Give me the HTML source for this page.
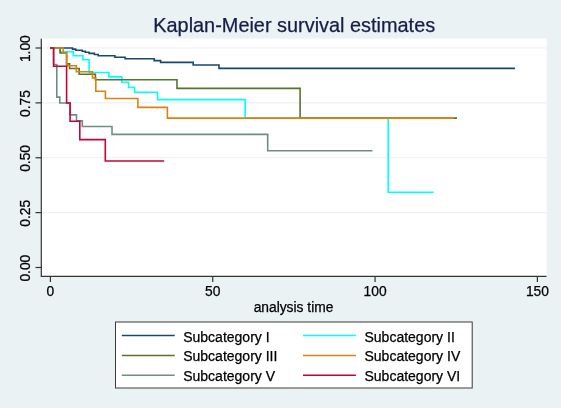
<!DOCTYPE html>
<html><head><meta charset="utf-8"><style>
html,body{margin:0;padding:0;background:#eaf2f3;width:561px;height:408px;overflow:hidden}
svg{display:block}
text{font-family:"Liberation Sans",sans-serif}
svg{will-change:transform}
text{stroke:currentColor;stroke-width:0.25px}
</style></head><body>
<svg width="561" height="408" viewBox="0 0 561 408">
<rect x="0" y="0" width="561" height="408" fill="#eaf2f3"/>
<rect x="41" y="38.6" width="505.5" height="238" fill="#ffffff"/>
<g stroke="#eaf2f3" stroke-width="1.2">
<line x1="41.5" x2="546.5" y1="212.62" y2="212.62"/>
<line x1="41.5" x2="546.5" y1="157.75" y2="157.75"/>
<line x1="41.5" x2="546.5" y1="102.88" y2="102.88"/>
<line x1="41.5" x2="546.5" y1="48.00" y2="48.00"/>
</g>
<g fill="none" stroke-width="1.6" stroke-linejoin="miter" stroke-linecap="butt">
<polyline points="50,48 72.5,48 72.5,49.1 75.7,49.1 75.7,50.2 82.1,50.2 82.1,51.3 85.3,51.3 85.3,52.3 89.1,52.3 89.1,53.4 94.4,53.4 94.4,54.5 98.2,54.5 98.2,55.8 114.9,55.8 114.9,57.3 125.1,57.3 125.1,58.7 154.2,58.7 154.2,60.6 160.6,60.6 160.6,62.4 193.2,62.4 193.2,65 219,65 219,68.4 515,68.4" stroke="#1a476f"/>
<polyline points="50,48 60.1,48 60.1,51.7 73.2,51.7 73.2,55.8 82.9,55.8 82.9,59.8 89.1,59.8 89.1,72.5 108.9,72.5 108.9,76.9 121.8,76.9 121.8,82.2 128.5,82.2 128.5,87.5 134.6,87.5 134.6,92.2 157.6,92.2 157.6,99.6 245.2,99.6 245.2,118.1 388.2,118.1 388.2,192.3 433.8,192.3" stroke="#00ffff"/>
<polyline points="50,48 60.1,48 60.1,53 66.6,53 66.6,63.9 69.6,63.9 69.6,68.5 79.2,68.5 79.2,74.2 95.4,74.2 95.4,79.8 177,79.8 177,88.4 300.1,88.4 300.1,118.1 457,118.1" stroke="#55752f"/>
<polyline points="50,48 63.3,48 63.3,53.3 66.6,53.3 66.6,65.7 76.4,65.7 76.4,71.7 92.5,71.7 92.5,78 95.8,78 95.8,91.2 105.4,91.2 105.4,98.5 137.9,98.5 137.9,107.4 167.4,107.4 167.4,118.1 453.8,118.1" stroke="#de8010"/>
<polyline points="50,48 53.6,48 53.6,64.5 56.8,64.5 56.8,97.1 59.8,97.1 59.8,103 70.1,103 70.1,114.9 76.5,114.9 76.5,120.9 82.3,120.9 82.3,126.5 112,126.5 112,134.4 267.7,134.4 267.7,150.8 372.4,150.8" stroke="#6e8e84"/>
<polyline points="50,48 53.6,48 53.6,66.3 66.6,66.3 66.6,103 70.1,103 70.1,121.2 79.8,121.2 79.8,139.6 105.3,139.6 105.3,161 164.2,161" stroke="#c10534"/>
</g>
<g stroke="#333" stroke-width="1.2" fill="none">
<polyline points="41.3,38.8 41.3,276.4 546.5,276.4"/>
<line x1="35.5" x2="41.5" y1="267.50" y2="267.50"/>
<line x1="35.5" x2="41.5" y1="212.62" y2="212.62"/>
<line x1="35.5" x2="41.5" y1="157.75" y2="157.75"/>
<line x1="35.5" x2="41.5" y1="102.88" y2="102.88"/>
<line x1="35.5" x2="41.5" y1="48.00" y2="48.00"/>
<line x1="50.40" x2="50.40" y1="276.5" y2="282"/>
<line x1="212.73" x2="212.73" y1="276.5" y2="282"/>
<line x1="375.07" x2="375.07" y1="276.5" y2="282"/>
<line x1="537.40" x2="537.40" y1="276.5" y2="282"/>
</g>
<text x="294.2" y="32" text-anchor="middle" font-size="19.9" fill="#161e48" color="#161e48">Kaplan-Meier survival estimates</text>
<g font-size="13.8" fill="#000" color="#000">
<text transform="translate(29.8 268.20) rotate(-90)" text-anchor="middle">0.00</text>
<text transform="translate(29.8 213.32) rotate(-90)" text-anchor="middle">0.25</text>
<text transform="translate(29.8 158.45) rotate(-90)" text-anchor="middle">0.50</text>
<text transform="translate(29.8 103.58) rotate(-90)" text-anchor="middle">0.75</text>
<text transform="translate(29.8 48.70) rotate(-90)" text-anchor="middle">1.00</text>
<text x="50.40" y="296.3" text-anchor="middle">0</text>
<text x="212.73" y="296.3" text-anchor="middle">50</text>
<text x="375.07" y="296.3" text-anchor="middle">100</text>
<text x="537.40" y="296.3" text-anchor="middle">150</text>
<text x="293.5" y="312.2" text-anchor="middle">analysis time</text>
</g>
<rect x="115.5" y="322" width="356.7" height="66" fill="#fff" stroke="#3a3a3a" stroke-width="1"/>
<g stroke-width="1.5" font-size="14" fill="#000" color="#000">
<line x1="121.8" x2="174.7" y1="335.60" y2="335.60" stroke="#1a476f"/>
<line x1="303" x2="355.9" y1="335.60" y2="335.60" stroke="#00ffff"/>
<text x="183.2" y="341.50">Subcategory I</text>
<text x="364.5" y="341.50">Subcategory II</text>
<line x1="121.8" x2="174.7" y1="355.45" y2="355.45" stroke="#55752f"/>
<line x1="303" x2="355.9" y1="355.45" y2="355.45" stroke="#de8010"/>
<text x="183.2" y="361.20">Subcategory III</text>
<text x="364.5" y="361.20">Subcategory IV</text>
<line x1="121.8" x2="174.7" y1="375.30" y2="375.30" stroke="#6e8e84"/>
<line x1="303" x2="355.9" y1="375.30" y2="375.30" stroke="#c10534"/>
<text x="183.2" y="380.90">Subcategory V</text>
<text x="364.5" y="380.90">Subcategory VI</text>
</g>
</svg>
</body></html>
